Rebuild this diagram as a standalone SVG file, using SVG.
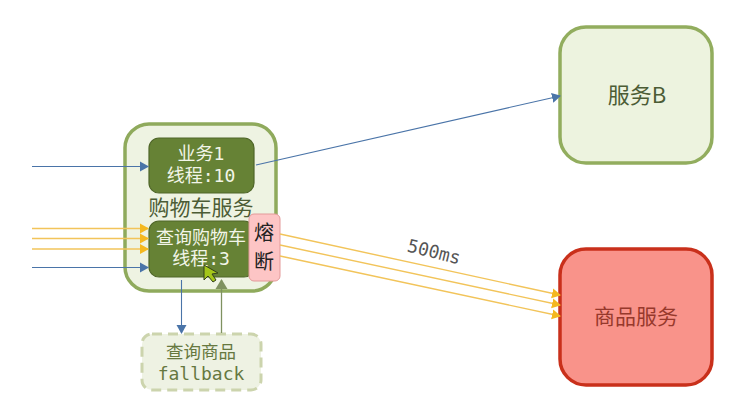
<svg xmlns="http://www.w3.org/2000/svg" width="747" height="407" viewBox="0 0 747 407">
<defs>
<marker id="b" markerUnits="userSpaceOnUse" markerWidth="10" markerHeight="12" refX="8" refY="6" orient="auto"><path d="M0 1L9 6L0 11Z" fill="#4a74a8"/></marker>
<marker id="y" markerUnits="userSpaceOnUse" markerWidth="10" markerHeight="12" refX="8" refY="6" orient="auto"><path d="M0 1L9 6L0 11Z" fill="#f4b81f"/></marker>
<marker id="g" markerUnits="userSpaceOnUse" markerWidth="12" markerHeight="14" refX="9" refY="7" orient="auto"><path d="M0 1L10 7L0 13Z" fill="#7f9160"/></marker>
</defs>
<style>
text{font-family:"Noto Sans CJK SC","DejaVu Sans Mono",sans-serif;text-anchor:middle}
.m{font-family:"DejaVu Sans Mono","Noto Sans CJK SC",monospace}
.in{fill:#668235;stroke:#4f6628;stroke-width:1.200}
.w{fill:#f2f5e8;font-size:18px}
.bl{stroke:#4a74a8;stroke-width:1.100;fill:none;marker-end:url(#b)}
.ye{stroke:#f2c45a;stroke-width:1.400;fill:none;marker-end:url(#y)}
</style>
<rect width="747" height="407" fill="#fff"/>
<g id="service-b"><rect x="560" y="27" width="152" height="136" rx="26" fill="#edf3df" stroke="#92ad5e" stroke-width="3.500"/><text x="637" y="103" font-size="22" fill="#4c5c35">服务B</text></g>
<g id="product-service"><rect x="560" y="249" width="152" height="136" rx="26" fill="#f9938a" stroke="#c9301b" stroke-width="3.500"/><text x="636" y="324" font-size="21" fill="#97392c">商品服务</text></g>
<g id="cart-service"><rect x="125" y="124" width="151" height="167" rx="24" fill="#eef3e2" stroke="#8faa5c" stroke-width="3.500"/><text x="201" y="215" font-size="21" fill="#4c5c35">购物车服务</text></g>
<g id="business"><rect class="in" x="149" y="138" width="105" height="55" rx="10"/><text class="w m" x="201" y="160">业务1</text><text class="w m" x="201" y="182">线程:10</text></g>
<g id="query-cart"><rect class="in" x="149" y="221" width="105" height="56" rx="10"/><text class="w" x="201" y="244">查询购物车</text><text class="w m" x="201" y="265">线程:3</text></g>
<g id="breaker"><rect x="249" y="214" width="31" height="67" rx="5" fill="#fdc5c5" stroke="#e39a9a" stroke-width="1"/><text x="264" y="240" font-size="20" fill="#222">熔</text><text x="264" y="269" font-size="20" fill="#222">断</text></g>
<g id="fallback"><rect x="142" y="334" width="119" height="56" rx="10" fill="#eef2e3" stroke="#ccd4ad" stroke-width="3" stroke-dasharray="10 6"/><text x="201" y="358" font-size="17.500" fill="#66783f">查询商品</text><text class="m" x="201" y="380" font-size="18" fill="#66783f">fallback</text></g>
<g id="connectors">
<path class="bl" d="M32 166.500H148"/>
<path class="bl" d="M256 165L560 96"/>
<path class="ye" d="M32 228.500H148"/>
<path class="ye" d="M32 238.500H148"/>
<path class="ye" d="M32 249H148"/>
<path class="bl" d="M32 267.500H148"/>
<path class="ye" d="M280 234L560 295"/>
<path class="ye" d="M280 245L560 305"/>
<path class="ye" d="M280 256L560 316"/>
<path class="bl" d="M181.500 280V333"/>
<path d="M221.500 333V280" stroke="#7f9160" stroke-width="1.300" fill="none" marker-end="url(#g)"/>
</g>
<text class="m" x="434" y="258" font-size="18" fill="#555" transform="rotate(14 434 252)">500ms</text>
<path d="M204 265L204 280L208 276L213 282L216 280L212 274L218 273Z" fill="#a4c61a" stroke="#33401a" stroke-width="1"/>
</svg>
